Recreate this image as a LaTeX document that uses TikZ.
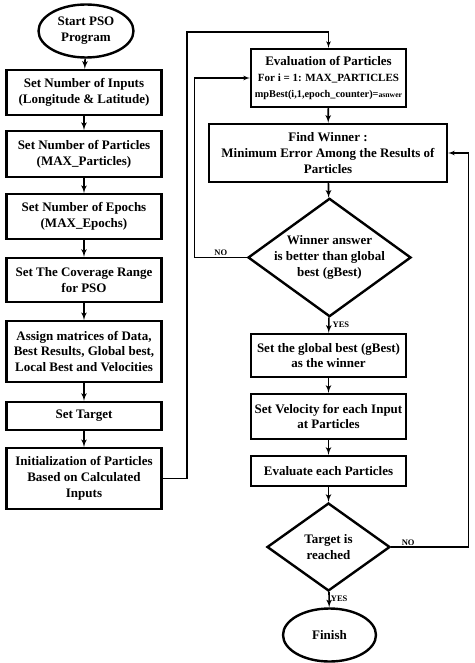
\documentclass[tikz,border=0pt]{standalone}
\usepackage{fontspec}
\setmainfont{Liberation Serif}
\usetikzlibrary{arrows,shapes.geometric}
\tikzstyle{block} = [draw, line width=2.4pt, rectangle, align=center,
    inner sep=1pt, minimum width=155pt, font=\fontsize{13}{15.8}\selectfont\bfseries]
\tikzstyle{decision} = [draw, line width=2.4pt, diamond, align=center,
    inner sep=-9pt, font=\fontsize{13}{15.8}\selectfont\bfseries]
\tikzstyle{terminal} = [draw, line width=2.4pt, ellipse, align=center,
    inner sep=0pt, font=\fontsize{13}{15.8}\selectfont\bfseries]
\tikzstyle{flow} = [->, line width=1.6pt]
\tikzstyle{loop} = [->, line width=1.2pt]
\tikzstyle{answer} = [font=\fontsize{8.5}{9}\selectfont\bfseries, inner sep=1pt]

\begin{document}
\begin{tikzpicture}[x=1pt, y=-1pt, >=latex']
    \useasboundingbox (0,0) rectangle (474,663);
    % left column
    \node [terminal, minimum width=95pt, minimum height=53pt] (start) at (86,31) {Start PSO\\Program};
    \node [block, minimum height=45pt] (inputs) at (84,92.5) {Set Number of Inputs\\(Longitude \& Latitude)};
    \node [block, below of=inputs, node distance=61.5pt, minimum height=45.5pt] (particles) {Set Number of Particles\\(MAX\_Particles)};
    \node [block, below of=particles, node distance=62.5pt, minimum height=44.5pt] (epochs) {Set Number of Epochs\\(MAX\_Epochs)};
    \node [block, below of=epochs, node distance=63.5pt, minimum height=44pt] (range) {Set The Coverage Range\\for PSO};
    \node [block, below of=range, node distance=71.5pt, minimum height=60.5pt] (assign) {Assign matrices of Data,\\Best Results, Global best,\\Local Best and Velocities};
    \node [block, below of=assign, node distance=64.5pt, minimum height=28pt] (target) {Set Target};
    \node [block, below of=target, node distance=62.5pt, minimum height=60.5pt] (init) {Initialization of Particles\\Based on Calculated\\Inputs};
    % right column
    \node [block, minimum height=58pt] (eval) at (328.5,78) {Evaluation of Particles\\{\fontsize{11}{14}\selectfont For i = 1: MAX\_PARTICLES}\\{\fontsize{10.3}{13.5}\selectfont mpBest(i,1,epoch\_counter)={\fontsize{7.7}{8}\selectfont asnwer}}};
    \node [block, minimum width=238pt, minimum height=58pt] (winner) at (328,153) {Find Winner :\\Minimum Error Among the Results of\\Particles};
    \node [decision, minimum width=163pt, minimum height=117pt] (better) at (329.5,257.5) {Winner answer\\is better than global\\best (gBest)};
    \node [block, minimum height=43pt] (gbest) at (328.5,355.5) {Set the global best (gBest)\\as the winner};
    \node [block, below of=gbest, node distance=61pt, minimum height=45pt] (velocity) {Set Velocity for each Input\\at Particles};
    \node [block, below of=velocity, node distance=54.5pt, minimum height=30pt] (each) {Evaluate each Particles};
    \node [decision, minimum width=123pt, minimum height=88pt] (reached) at (328.5,547) {Target is\\reached};
    \node [terminal, minimum width=93pt, minimum height=53pt] (finish) at (329.5,635) {Finish};

    \draw [flow] (start) -- (inputs);
    \draw [flow] (inputs) -- (particles);
    \draw [flow] (particles) -- (epochs);
    \draw [flow] (epochs) -- (range);
    \draw [flow] (range) -- (assign);
    \draw [flow] (assign) -- (target);
    \draw [flow] (target) -- (init);
    \draw [loop] (init.east) -| (187,32) -| (eval.north);
    \draw [flow] (eval) -- (winner);
    \draw [flow] (winner) -- (better);
    \draw [flow] (better) -- node [answer, anchor=west, pos=0.45, xshift=2pt] {YES} (gbest);
    \draw [loop] (better.west) -- ++(-52,0) node [answer, above, pos=0.5] {NO} |- (eval.west);
    \draw [flow] (gbest) -- (velocity);
    \draw [flow] (velocity) -- (each);
    \draw [flow] (each) -- (reached);
    \draw [flow] (reached) -- node [answer, anchor=west, pos=0.45, xshift=0pt] {YES} (finish);
    \draw [loop] (reached.east) -- ++(77,0) node [answer, above, pos=0.22] {NO} |- (winner.east);
\end{tikzpicture}
\end{document}
